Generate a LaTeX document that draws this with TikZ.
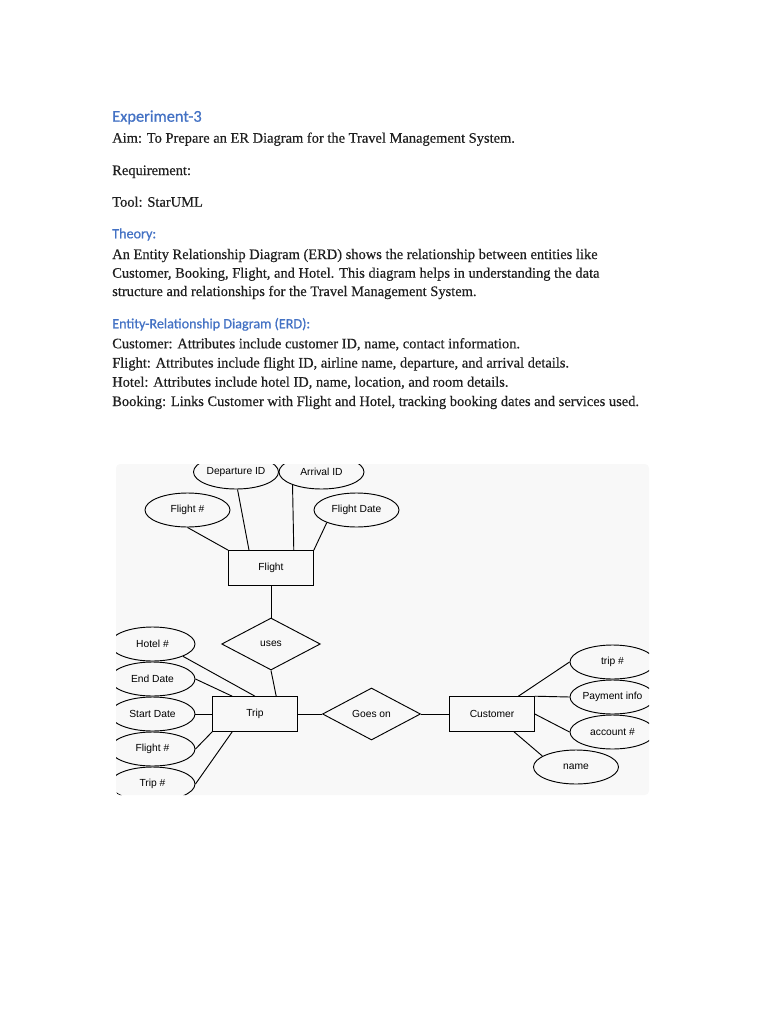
\documentclass[tikz,border=0pt]{standalone}
\usepackage{fontspec}
\setmainfont{Liberation Serif}[FakeBold=0.4]
\newfontfamily\headfont{Carlito}[FakeBold=0.8]
\newfontfamily\erfont{Liberation Sans}
\usetikzlibrary{shapes.geometric}
\definecolor{headblue}{RGB}{68,114,196}
\definecolor{panelgray}{RGB}{248,248,248}

\begin{document}
\begin{tikzpicture}[x=0.75pt,y=-0.75pt,
    txt/.style={anchor=base west,inner sep=0pt,text=black!88,
      font=\fontsize{10.85}{13}\selectfont},
    head/.style={anchor=base west,inner sep=0pt,text=headblue},
    entity/.style={draw,line width=0.7pt,rectangle,minimum width=63.5pt,
      minimum height=26pt,inner sep=0pt},
    attr/.style={draw,line width=0.7pt,ellipse,minimum width=63.75pt,
      minimum height=25.5pt,inner sep=0pt},
    rel/.style={draw,line width=0.7pt,diamond,minimum width=74pt,
      minimum height=39pt,inner sep=0pt},
    link/.style={line width=0.7pt}]
    \useasboundingbox (0,0) rectangle (768,1024);
    % heading and text:
    \node[head,font=\headfont\fontsize{12.3}{14}\selectfont] (exphead) at (112,121.7) {Experiment-3};
    \node[txt] (aim) at (112,142.7) {Aim: To Prepare an ER Diagram for the Travel Management System.};
    \node[txt] (req) at (112,175) {Requirement:};
    \node[txt] (tool) at (112,206.7) {Tool: StarUML};
    \node[head,font=\headfont\fontsize{10.6}{12}\selectfont] (theoryhead) at (112,238.3) {Theory:};
    \node[txt] (th1) at (112,259) {An Entity Relationship Diagram (ERD) shows the relationship between entities like};
    \node[txt] (th2) at (112,277.7) {Customer, Booking, Flight, and Hotel. This diagram helps in understanding the data};
    \node[txt] (th3) at (112,296) {structure and relationships for the Travel Management System.};
    \node[head,font=\headfont\fontsize{10.6}{12}\selectfont] (erdhead) at (112,328.3) {Entity-Relationship Diagram (ERD):};
    \node[txt] (erd1) at (112,348.3) {Customer: Attributes include customer ID, name, contact information.};
    \node[txt] (erd2) at (112,367.5) {Flight: Attributes include flight ID, airline name, departure, and arrival details.};
    \node[txt] (erd3) at (112,386.7) {Hotel: Attributes include hotel ID, name, location, and room details.};
    \node[txt] (erd4) at (112,406) {Booking: Links Customer with Flight and Hotel, tracking booking dates and services used.};
    % diagram panel:
    \fill[panelgray,rounded corners=3pt] (116,464) rectangle (649,795);
    \begin{scope}[font=\erfont\fontsize{7.7}{9}\selectfont]
    \clip[rounded corners=3pt] (116,464) rectangle (649,795);
    % flight:
    \node[entity] (flight) at (271,568) {Flight};
    \node[attr] (depid) at (236,472) {Departure ID};
    \node[attr] (arrid) at (321.5,472) {Arrival ID};
    \node[attr] (fnum) at (187.5,510) {Flight \#};
    \node[attr] (fdate) at (356.5,510) {Flight Date};
    \node[rel] (uses) at (271,644) {uses};
    % trip:
    \node[entity] (trip) at (255,714) {Trip};
    \node[attr] (hotelnum) at (152.5,644) {Hotel \#};
    \node[attr] (enddate) at (152.5,679) {End Date};
    \node[attr] (startdate) at (152.5,714) {Start Date};
    \node[attr] (tflightnum) at (152.5,749) {Flight \#};
    \node[attr] (tripnum) at (152.5,784) {Trip \#};
    \node[rel,minimum width=73.5pt] (goeson) at (371.5,714) {Goes on};
    % customer:
    \node[entity] (cust) at (492,714) {Customer};
    \node[attr] (ctripnum) at (612.5,662) {trip \#};
    \node[attr] (payinfo) at (612.5,697) {Payment info};
    \node[attr] (acctnum) at (612.5,732) {account \#};
    \node[attr] (cname) at (576,767) {name};
    % links:
    \draw[link] (fnum.south) -- (flight.north west);
    \draw[link] (depid.-85) -- (flight.141);
    \draw[link] (arrid.204) -- (flight.38);
    \draw[link] (fdate.203) -- (flight.north east);
    \draw[link] (flight.south) -- (uses.north);
    \draw[link] (uses.south) -- (trip.40);
    \draw[link] (hotelnum.-22) -- (trip.north);
    \draw[link] (enddate.east) -- (trip.142);
    \draw[link] (startdate.east) -- (trip.west);
    \draw[link] (tflightnum.east) -- (trip.south west);
    \draw[link] (tripnum.east) -- (trip.-142);
    \draw[link] (trip.east) -- (goeson.west);
    \draw[link] (goeson.east) -- (cust.west);
    \draw[link] (cust.34) -- (ctripnum.west);
    \draw[link] (cust.north east) -- (payinfo.west);
    \draw[link] (cust.east) -- (acctnum.west);
    \draw[link] (cust.-39) -- (cname.162);
    \end{scope}
\end{tikzpicture}
\end{document}
